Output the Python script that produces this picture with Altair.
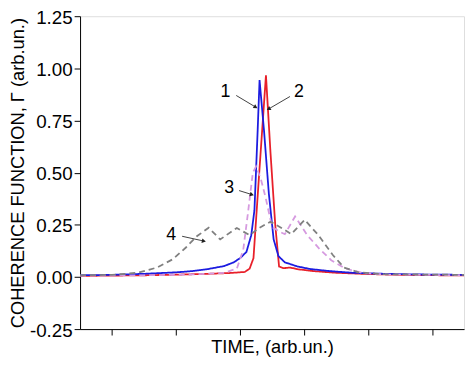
import math
import altair as alt
import pandas as pd

# ---- data ----
blue_x = [0, 1, 2, 3, 3.5, 4, 4.5, 4.8, 5.0, 5.2, 5.35, 5.45, 5.55, 5.61, 5.75, 5.9, 6.05, 6.2, 6.4, 6.8, 7.2, 7.8, 8.5, 9.5, 10.5, 12]
blue_y = [0.008, 0.01, 0.015, 0.022, 0.028, 0.038, 0.052, 0.07, 0.09, 0.12, 0.2, 0.32, 0.7, 0.944, 0.7, 0.4, 0.18, 0.10, 0.07, 0.05, 0.038, 0.028, 0.02, 0.015, 0.012, 0.01]

red_x = [0, 2, 3, 4, 4.7, 5.15, 5.3, 5.42, 5.6, 5.81, 5.95, 6.1, 6.22, 6.35, 6.57, 6.8, 7.3, 8, 9, 10, 12]
red_y = [0.005, 0.008, 0.011, 0.015, 0.019, 0.024, 0.04, 0.09, 0.5, 0.967, 0.6, 0.25, 0.05, 0.042, 0.045, 0.037, 0.028, 0.02, 0.014, 0.01, 0.007]

pink_x = [0, 2, 3.5, 4.5, 4.9, 5.1, 5.25, 5.4, 5.5, 5.65, 5.8, 6.0, 6.2, 6.4, 6.72, 7.1, 7.48, 7.85, 8.3, 8.8, 9.5, 12]
pink_y = [0.006, 0.008, 0.012, 0.02, 0.04, 0.13, 0.31, 0.5, 0.53, 0.47, 0.38, 0.24, 0.22, 0.205, 0.29, 0.2, 0.135, 0.08, 0.04, 0.02, 0.012, 0.008]

gray_x = [0, 1, 1.8, 2.4, 2.9, 3.3, 3.65, 4.02, 4.38, 4.9, 5.3, 5.6, 5.95, 6.4, 6.6, 7.02, 7.45, 7.9, 8.25, 8.7, 9.5, 12]
gray_y = [0.008, 0.01, 0.02, 0.045, 0.085, 0.14, 0.195, 0.236, 0.18, 0.235, 0.2, 0.235, 0.265, 0.225, 0.205, 0.274, 0.2, 0.105, 0.045, 0.022, 0.013, 0.01]

series_names = ["4", "3", "1", "2"]
series_colors = ["#808080", "#d69ae0", "#1c1ce0", "#e8202a"]
series_dash = [[6, 4], [6, 4], [1, 0], [1, 0]]

label_text = ["1", "2", "3", "4"]
label_x = [4.54, 6.84, 4.66, 2.85]
label_y = [0.888, 0.888, 0.428, 0.2]
arrow_x1 = [4.88, 6.56, 4.97, 3.19]
arrow_y1 = [0.87, 0.865, 0.414, 0.195]
arrow_x2 = [5.49, 5.89, 5.37, 3.87]
arrow_y2 = [0.814, 0.805, 0.395, 0.172]

y_ticks = [-0.25 + 0.125 * i for i in range(13)]
x_ticks = list(range(1, 12))

# ---- layout ----
W, H = 389, 317
X_DOM = [0, 12]
Y_DOM = [-0.25, 1.25]
FONT = "Liberation Sans"

rows = []
for name, xs, ys in [("2", red_x, red_y), ("1", blue_x, blue_y), ("3", pink_x, pink_y), ("4", gray_x, gray_y)]:
    for i, (a, b) in enumerate(zip(xs, ys)):
        rows.append({"series": name, "x": a, "y": b, "order": i})
df = pd.DataFrame(rows)

px_per_x = W / (X_DOM[1] - X_DOM[0])
px_per_y = H / (Y_DOM[1] - Y_DOM[0])
angles = []
for a1, b1, a2, b2 in zip(arrow_x1, arrow_y1, arrow_x2, arrow_y2):
    dx = (a2 - a1) * px_per_x
    dy = -(b2 - b1) * px_per_y
    angles.append(math.degrees(math.atan2(dx, -dy)) % 360)

ann = pd.DataFrame({
    "t": label_text, "lx": label_x, "ly": label_y,
    "x1": arrow_x1, "y1": arrow_y1, "x2": arrow_x2, "y2": arrow_y2, "ang": angles,
})

xscale = alt.Scale(domain=X_DOM, nice=False, zero=False)
yscale = alt.Scale(domain=Y_DOM, nice=False, zero=False)

major_y = "abs(datum.value*4 - round(datum.value*4)) < 0.01"
y_axis = alt.Axis(
    values=y_ticks,
    title="COHERENCE FUNCTION, Γ (arb.un.)",
    titleFont=FONT, titleFontSize=18.5, titleFontWeight="normal", titleColor="black",
    titlePadding=2,
    labelFont=FONT, labelFontSize=19, labelColor="black", labelPadding=2, labelOffset=1,
    labelExpr=f"{major_y} ? ((datum.value < 0 ? '-' : '') + format(abs(datum.value), '.2f')) : ''",
    tickSize={"condition": {"test": f"!({major_y})", "value": 3}, "value": 6},
    tickColor="black", domainColor="black", grid=False, labelOverlap=False,
)
x_axis = alt.Axis(
    values=x_ticks, labels=False,
    title="TIME, (arb.un.)",
    titleFont=FONT, titleFontSize=18.5, titleFontWeight="normal", titleColor="black",
    titlePadding=2,
    tickSize={"condition": {"test": "datum.value % 2 == 1", "value": 6}, "value": 3},
    tickColor="black", domainColor="black", grid=False,
)

lines = alt.Chart(df).mark_line(strokeWidth=1.8).encode(
    x=alt.X("x:Q", scale=xscale, axis=x_axis),
    y=alt.Y("y:Q", scale=yscale, axis=y_axis),
    color=alt.Color("series:N", scale=alt.Scale(domain=series_names, range=series_colors), legend=None),
    strokeDash=alt.StrokeDash("series:N", scale=alt.Scale(domain=series_names, range=series_dash), legend=None),
    order="order:Q",
)

arrows = alt.Chart(ann).mark_rule(color="#404040", strokeWidth=1).encode(
    x=alt.X("x1:Q", scale=xscale), y=alt.Y("y1:Q", scale=yscale),
    x2="x2:Q", y2="y2:Q",
)
heads = alt.Chart(ann).mark_point(shape="triangle-up", filled=True, color="#202020", size=22, opacity=1).encode(
    x=alt.X("x2:Q", scale=xscale), y=alt.Y("y2:Q", scale=yscale),
    angle=alt.Angle("ang:Q", scale=None),
)
labels = alt.Chart(ann).mark_text(font=FONT, fontSize=18, color="black").encode(
    x=alt.X("lx:Q", scale=xscale), y=alt.Y("ly:Q", scale=yscale), text="t:N",
)

chart = alt.layer(lines, arrows, heads, labels).properties(
    width=W, height=H,
    autosize="none",
    padding={"left": 73, "top": 6, "right": 2, "bottom": 29},
).configure_view(stroke=None).configure(background="white")

chart.save("out.html", embed_options={"renderer": "svg", "actions": False})
